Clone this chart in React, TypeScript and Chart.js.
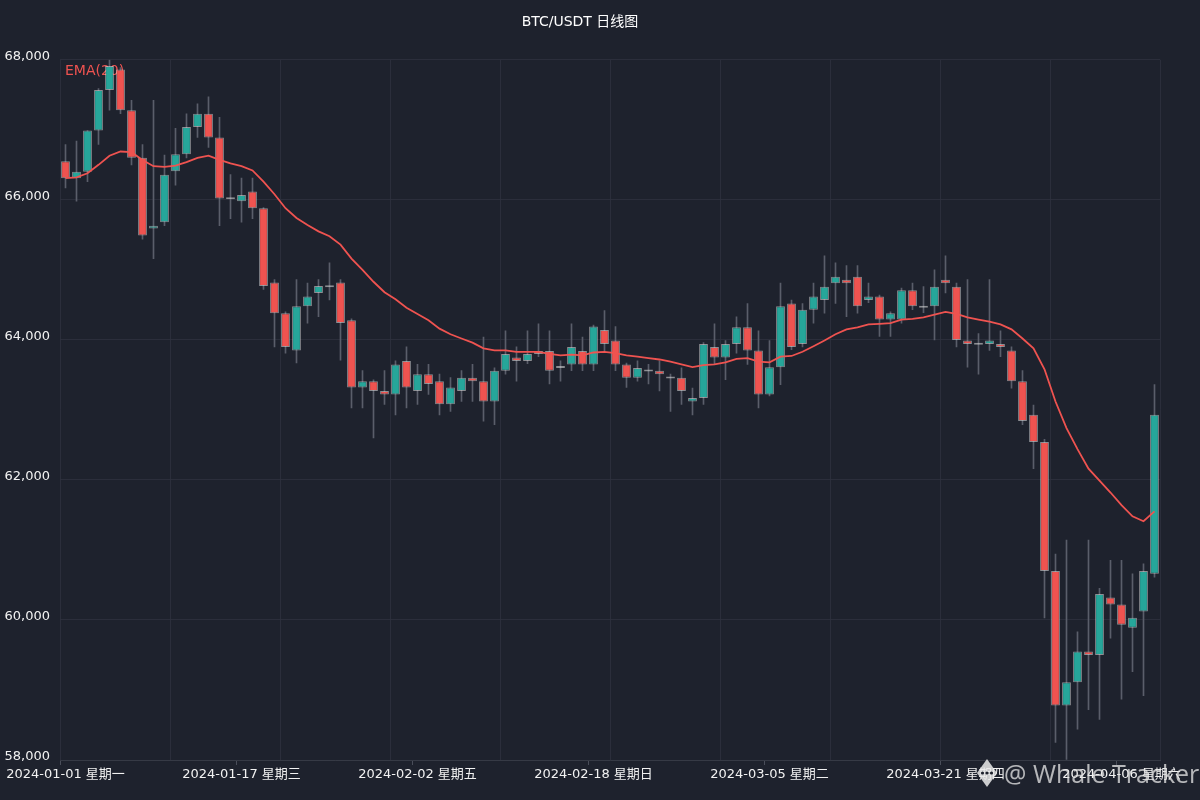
import { useEffect, useRef } from "react"
import { Chart, registerables } from "chart.js"

Chart.register(...registerables)

// 日期 (daily candles)
const dates = [
  "2024-01-01", "2024-01-02", "2024-01-03", "2024-01-04", "2024-01-05", "2024-01-06", "2024-01-07", "2024-01-08", "2024-01-09", "2024-01-10",
  "2024-01-11", "2024-01-12", "2024-01-13", "2024-01-14", "2024-01-15", "2024-01-16", "2024-01-17", "2024-01-18", "2024-01-19", "2024-01-20",
  "2024-01-21", "2024-01-22", "2024-01-23", "2024-01-24", "2024-01-25", "2024-01-26", "2024-01-27", "2024-01-28", "2024-01-29", "2024-01-30",
  "2024-01-31", "2024-02-01", "2024-02-02", "2024-02-03", "2024-02-04", "2024-02-05", "2024-02-06", "2024-02-07", "2024-02-08", "2024-02-09",
  "2024-02-10", "2024-02-11", "2024-02-12", "2024-02-13", "2024-02-14", "2024-02-15", "2024-02-16", "2024-02-17", "2024-02-18", "2024-02-19",
  "2024-02-20", "2024-02-21", "2024-02-22", "2024-02-23", "2024-02-24", "2024-02-25", "2024-02-26", "2024-02-27", "2024-02-28", "2024-02-29",
  "2024-03-01", "2024-03-02", "2024-03-03", "2024-03-04", "2024-03-05", "2024-03-06", "2024-03-07", "2024-03-08", "2024-03-09", "2024-03-10",
  "2024-03-11", "2024-03-12", "2024-03-13", "2024-03-14", "2024-03-15", "2024-03-16", "2024-03-17", "2024-03-18", "2024-03-19", "2024-03-20",
  "2024-03-21", "2024-03-22", "2024-03-23", "2024-03-24", "2024-03-25", "2024-03-26", "2024-03-27", "2024-03-28", "2024-03-29", "2024-03-30",
  "2024-03-31", "2024-04-01", "2024-04-02", "2024-04-03", "2024-04-04", "2024-04-05", "2024-04-06", "2024-04-07", "2024-04-08", "2024-04-09",
]

const opens = [
  66550, 66310, 66400, 66990, 67570, 67860, 67280, 66600, 65590, 65680,
  66410, 66650, 67040, 67230, 66890, 66020, 65980, 66120, 65880, 64820,
  64380, 63850, 64480, 64670, 64760, 64820, 64280, 63320, 63410, 63270,
  63220, 63700, 63270, 63510, 63410, 63080, 63270, 63460, 63410, 63120,
  63560, 63750, 63700, 63840, 63840, 63600, 63650, 63840, 63650, 64140,
  63990, 63650, 63460, 63560, 63560, 63460, 63460, 63120, 63170, 63900,
  63750, 63940, 64180, 63850, 63220, 63610, 64520, 63940, 64430, 64570,
  64810, 64860, 64900, 64570, 64620, 64290, 64290, 64710, 64470, 64480,
  64860, 64760, 63990, 63940, 63940, 63940, 63850, 63410, 62930, 62540,
  60700, 58780, 59110, 59550, 59500, 60320, 60220, 59890, 60120, 60660,
]

const highs = [
  66790, 66840, 66990, 67590, 68000, 67890, 67420, 66790, 67420, 66640,
  67020, 67230, 67370, 67470, 67180, 66360, 66310, 66310, 65890, 64860,
  64400, 64860, 64810, 64860, 65100, 64860, 64300, 63560, 63430, 63560,
  63700, 63900, 63650, 63650, 63510, 63460, 63560, 63650, 64040, 63600,
  64130, 63900, 64130, 64230, 64130, 63700, 64230, 64040, 64210, 64420,
  64190, 63670, 63700, 63650, 63700, 63510, 63600, 63310, 63960, 64230,
  63990, 64330, 64520, 64130, 63990, 64810, 64570, 64520, 64810, 65200,
  65100, 65060, 65060, 64810, 64640, 64400, 64740, 64810, 64760, 65000,
  65200, 64810, 64860, 64090, 64860, 64130, 63900, 63560, 63070, 62580,
  60940, 61140, 59830, 61140, 60450, 60850, 60850, 60660, 60800, 63360,
]

const lows = [
  66170, 65980, 66260, 66790, 67280, 67230, 66500, 65440, 65160, 65630,
  66210, 66600, 66890, 66750, 65630, 65730, 65680, 65730, 64720, 63900,
  63810, 63670, 64240, 64330, 64570, 63710, 63030, 63030, 62600, 63080,
  62930, 63030, 63080, 63220, 62930, 62980, 63120, 63120, 62840, 62790,
  63510, 63410, 63660, 63760, 63370, 63410, 63560, 63560, 63560, 63840,
  63560, 63320, 63410, 63370, 63270, 62980, 63080, 62930, 63080, 63660,
  63430, 63810, 63650, 63030, 63200, 63360, 63860, 63900, 64240, 64380,
  64520, 64330, 64380, 64530, 64050, 64050, 64240, 64430, 64390, 64000,
  64670, 63900, 63610, 63510, 63850, 63760, 63310, 62790, 62160, 60030,
  58250, 58010, 58440, 58720, 58580, 59740, 58870, 59260, 58920, 60610,
]

const closes = [
  66310, 66400, 66990, 67570, 67910, 67280, 66600, 65490, 65630, 66360,
  66650, 67040, 67230, 66890, 66020, 66010, 66070, 65880, 64770, 64380,
  63900, 64480, 64620, 64770, 64750, 64240, 63320, 63410, 63270, 63220,
  63650, 63320, 63510, 63370, 63080, 63320, 63460, 63410, 63120, 63560,
  63800, 63700, 63800, 63800, 63560, 63610, 63900, 63650, 64190, 63940,
  63650, 63460, 63600, 63550, 63510, 63450, 63270, 63170, 63940, 63750,
  63940, 64180, 63850, 63220, 63610, 64480, 63900, 64430, 64620, 64760,
  64900, 64810, 64480, 64620, 64290, 64380, 64710, 64480, 64460, 64760,
  64810, 64000, 63940, 63930, 63990, 63900, 63410, 62840, 62540, 60700,
  58780, 59110, 59550, 59500, 60370, 60220, 59930, 60030, 60700, 62930,
]

// EMA(20) line
const ema20 = [
  66310, 66320, 66380, 66500, 66630, 66690, 66680, 66570, 66480, 66470,
  66490, 66540, 66600, 66630, 66570, 66520, 66480, 66420, 66260, 66080,
  65880, 65740, 65640, 65550, 65480, 65360, 65160, 65000, 64830, 64680,
  64580, 64460, 64370, 64280, 64160, 64080, 64020, 63960, 63880, 63850,
  63850, 63830, 63830, 63830, 63800, 63780, 63790, 63780, 63820, 63830,
  63810, 63780, 63760, 63740, 63720, 63690, 63650, 63610, 63640, 63650,
  63680, 63730, 63740, 63690, 63680, 63760, 63770, 63830, 63910, 63990,
  64080, 64150, 64180, 64220, 64230, 64240, 64290, 64300, 64320, 64360,
  64400, 64370, 64320, 64290, 64260, 64220, 64150, 64020, 63880, 63580,
  63120, 62740, 62440, 62160, 61990, 61820, 61640, 61480, 61410, 61550,
]

const yMin = 58000
const yMax = 68000
const yStep = 2000
const labelEvery = 16
const gridEvery = 10

const weekdays = ["星期日", "星期一", "星期二", "星期三", "星期四", "星期五", "星期六"]

const UP = "#26a69a"
const DOWN = "#ef5350"
const GRID = "rgba(46,50,62,0.8)"
const TEXT = "#f2f2f2"
const NONE = "rgba(0,0,0,0)"
const FONT = "'DejaVu Sans', 'Noto Sans CJK SC', sans-serif"

function tickLabel(d: string) {
  const day = new Date(d + "T00:00:00Z").getUTCDay()
  return `${d} ${weekdays[day]}`
}

Chart.defaults.font.family = FONT

// series name written inside the plot, top-left, under the candles
const seriesLabel = {
  id: "seriesLabel",
  beforeDatasetsDraw(chart: any) {
    const { ctx, chartArea } = chart
    ctx.save()
    ctx.font = `14px ${FONT}`
    ctx.fillStyle = DOWN
    ctx.textBaseline = "middle"
    ctx.fillText(chart.data.datasets[0].label, chartArea.left + 5, chartArea.top + 12)
    ctx.restore()
  },
}

function CandleChart() {
  const canvasRef = useRef<HTMLCanvasElement>(null)
  const chartRef = useRef<Chart | null>(null)

  useEffect(() => {
    if (!canvasRef.current) return
    const ctx = canvasRef.current.getContext("2d")
    if (!ctx) return

    const bodyColors = opens.map((o, i) => (closes[i] >= o ? UP : DOWN))

    chartRef.current = new Chart(ctx, {
      type: "bar",
      data: {
        labels: dates,
        datasets: [
          {
            type: "line",
            label: "EMA(20)",
            data: ema20,
            borderColor: DOWN,
            borderWidth: 1.8,
            pointRadius: 0,
            tension: 0,
            order: 0,
          } as any,
          {
            type: "bar",
            label: "K线",
            data: opens.map((o, i) => [o, closes[i]]),
            backgroundColor: bodyColors,
            borderColor: "rgba(214,214,214,0.6)",
            borderWidth: 1,
            borderSkipped: false,
            minBarLength: 2,
            barPercentage: 0.8,
            categoryPercentage: 1,
            grouped: false,
            order: 1,
          },
          {
            type: "bar",
            label: "影线",
            data: lows.map((l, i) => [l, highs[i]]),
            backgroundColor: "#5a5e6a",
            barThickness: 1,
            grouped: false,
            order: 2,
          },
        ],
      },
      options: {
        responsive: true,
        maintainAspectRatio: false,
        animation: false,
        layout: { padding: { left: 0, right: 40, top: 0, bottom: 0 } },
        plugins: {
          title: {
            display: true,
            text: "BTC/USDT 日线图",
            color: "#ffffff",
            font: { size: 14, weight: "normal" },
            padding: { top: 14, bottom: 29 },
          },
          legend: { display: false },
          tooltip: { enabled: false },
        },
        scales: {
          x: {
            type: "category",
            offset: true,
            grid: {
              offset: true,
              color: (c: any) =>
                c.index === undefined || c.index % gridEvery === 0 ? GRID : NONE,
              tickLength: 5,
              tickColor: (c: any) =>
                c.index !== undefined && c.index % labelEvery === 0 ? "#4a4e5a" : NONE,
            },
            border: { display: true, color: "#363a45" },
            ticks: {
              autoSkip: false,
              maxRotation: 0,
              minRotation: 0,
              padding: 2,
              color: TEXT,
              font: { size: 13 },
              callback: (_v: any, i: number) => (i % labelEvery === 0 ? tickLabel(dates[i]) : ""),
            },
            afterFit: (s: any) => {
              s.height = 40
            },
            z: 1,
          },
          y: {
            min: yMin,
            max: yMax,
            ticks: {
              stepSize: yStep,
              color: TEXT,
              font: { size: 13 },
              padding: 10,
              labelOffset: -3,
              callback: (v: any) => Number(v).toLocaleString("en-US"),
            },
            grid: { color: GRID, drawTicks: false },
            border: { display: false },
            afterFit: (s: any) => {
              s.width = 60
            },
            z: 1,
          },
        } as any,
      },
      plugins: [seriesLabel],
    })

    return () => {
      if (chartRef.current) {
        chartRef.current.destroy()
        chartRef.current = null
      }
    }
  }, [])

  return <canvas ref={canvasRef}></canvas>
}

export default function App() {
  useEffect(() => {
    document.body.style.margin = "0"
    document.body.style.background = "#1e222d"
  }, [])

  return (
    <div style={{ position: "relative", width: 1200, height: 800, background: "#1e222d", overflow: "hidden" }}>
      <div style={{ position: "absolute", inset: 0 }}>
        <CandleChart />
      </div>
      {/* watermark */}
      <div
        style={{
          position: "absolute",
          left: 976,
          top: 757,
          display: "flex",
          alignItems: "center",
          gap: 6,
          color: "rgba(225,225,225,0.78)",
          fontFamily: "'Open Sans', 'Noto Sans', sans-serif",
          fontSize: 25,
          lineHeight: "32px",
          pointerEvents: "none",
        }}
      >
        <svg width="22" height="30" viewBox="0 0 22 30">
          <polygon points="11,1 21,15 11,29 1,15" fill="rgba(235,235,235,0.85)" />
          <circle cx="6.5" cy="15" r="1.6" fill="#1e222d" />
          <circle cx="11" cy="15" r="1.6" fill="#1e222d" />
          <circle cx="15.5" cy="15" r="1.6" fill="#1e222d" />
        </svg>
        <span>@ Whale Tracker</span>
      </div>
    </div>
  )
}
